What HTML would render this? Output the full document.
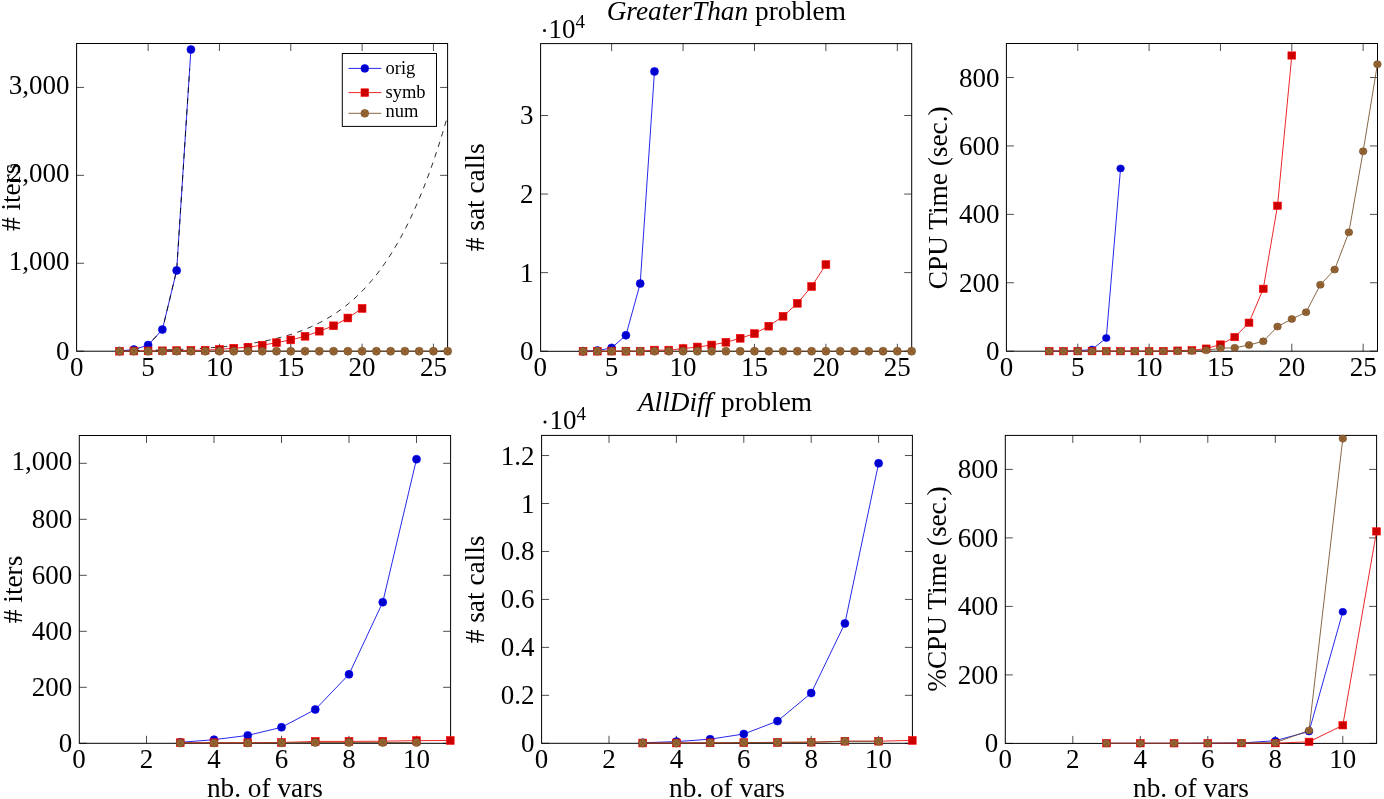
<!DOCTYPE html><html><head><meta charset="utf-8"><style>html,body{margin:0;padding:0;background:#fff;overflow:hidden}svg{display:block;will-change:transform}text{font-family:"Liberation Serif",serif;fill:#000}.t{font-size:27px}.l{font-size:27.3px}.g{font-size:18.5px}</style></head><body>
<svg width="1384" height="799" viewBox="0 0 1384 799">
<rect x="76.6" y="43.5" width="371" height="307.7" fill="none" stroke="#000" stroke-width="1"/>
<path d="M148.12 351.2V343.7M148.12 43.5V51M219.45 351.2V343.7M219.45 43.5V51M290.78 351.2V343.7M290.78 43.5V51M362.1 351.2V343.7M362.1 43.5V51M433.43 351.2V343.7M433.43 43.5V51M76.6 351.2H84.1M447.6 351.2H440.1M76.6 263.27H84.1M447.6 263.27H440.1M76.6 175.34H84.1M447.6 175.34H440.1M76.6 87.41H84.1M447.6 87.41H440.1" stroke="#000" stroke-width="0.7" fill="none"/>
<text x="76.8" y="376.2" text-anchor="middle" class="t">0</text>
<text x="148.12" y="376.2" text-anchor="middle" class="t">5</text>
<text x="219.45" y="376.2" text-anchor="middle" class="t">10</text>
<text x="290.78" y="376.2" text-anchor="middle" class="t">15</text>
<text x="362.1" y="376.2" text-anchor="middle" class="t">20</text>
<text x="433.43" y="376.2" text-anchor="middle" class="t">25</text>
<text x="69.6" y="360.2" text-anchor="end" class="t">0</text>
<text x="69.6" y="269.97" text-anchor="end" class="t">1,000</text>
<text x="69.6" y="182.04" text-anchor="end" class="t">2,000</text>
<text x="69.6" y="94.11" text-anchor="end" class="t">3,000</text>
<path d="M119.59 351 L133.86 349.6 L148.12 345.1 L162.39 329.6 L176.66 270.4 L190.92 49.5" fill="none" stroke="#0000e6" stroke-width="0.85" stroke-linejoin="round"/>
<path d="M119.59 351.2 L133.86 351 L148.12 350.9 L162.39 350.8 L176.66 350.6 L190.92 350.3 L205.19 350.2 L219.45 349.4 L233.72 348.2 L247.98 347.2 L262.25 345.2 L276.51 342.7 L290.78 339.9 L305.04 336.3 L319.31 331.2 L333.57 325.8 L347.84 318 L362.1 308.4" fill="none" stroke="#e60000" stroke-width="0.85" stroke-linejoin="round"/>
<path d="M119.59 351.2 L133.86 351.2 L148.12 351.2 L162.39 351.2 L176.66 351.2 L190.92 351.2 L205.19 351.2 L219.45 351.2 L233.72 351.2 L247.98 351.2 L262.25 351.2 L276.51 351.2 L290.78 351.2 L305.04 351.2 L319.31 351.2 L333.57 351.2 L347.84 351.2 L362.1 351.2 L376.37 351.2 L390.63 351.2 L404.9 351.2 L419.16 351.2 L433.43 351.2 L447.69 351.2" fill="none" stroke="#734d26" stroke-width="0.85" stroke-linejoin="round"/>
<path d="M133.86 350.55 L136.48 350.51 L139.09 350.46 L141.71 350.42 L144.32 350.37 L146.94 350.32 L149.55 350.27 L152.17 350.22 L154.78 350.16 L157.4 350.09 L160.01 350.03 L162.63 349.96 L165.24 349.89 L167.86 349.81 L170.47 349.73 L173.09 349.64 L175.7 349.55 L178.32 349.46 L180.93 349.36 L183.55 349.25 L186.16 349.14 L188.78 349.02 L191.4 348.9 L194.01 348.77 L196.63 348.63 L199.24 348.48 L201.86 348.33 L204.47 348.17 L207.09 348 L209.7 347.82 L212.32 347.63 L214.93 347.43 L217.55 347.22 L220.16 347 L222.78 346.77 L225.39 346.53 L228.01 346.28 L230.62 346.01 L233.24 345.73 L235.85 345.43 L238.47 345.12 L241.09 344.79 L243.7 344.45 L246.32 344.09 L248.93 343.71 L251.55 343.32 L254.16 342.9 L256.78 342.46 L259.39 342 L262.01 341.52 L264.62 341.02 L267.24 340.49 L269.85 339.94 L272.47 339.35 L275.08 338.74 L277.7 338.11 L280.31 337.44 L282.93 336.74 L285.54 336 L288.16 335.24 L290.78 334.43 L293.39 333.59 L296.01 332.71 L298.62 331.79 L301.24 330.82 L303.85 329.81 L306.47 328.76 L309.08 327.66 L311.7 326.5 L314.31 325.3 L316.93 324.04 L319.54 322.72 L322.16 321.35 L324.77 319.92 L327.39 318.42 L330 316.85 L332.62 315.22 L335.23 313.51 L337.85 311.73 L340.46 309.88 L343.08 307.94 L345.7 305.92 L348.31 303.81 L350.93 301.62 L353.54 299.33 L356.16 296.94 L358.77 294.46 L361.39 291.87 L364 289.17 L366.62 286.36 L369.23 283.44 L371.85 280.39 L374.46 277.22 L377.08 273.92 L379.69 270.49 L382.31 266.92 L384.92 263.2 L387.54 259.34 L390.15 255.33 L392.77 251.15 L395.38 246.81 L398 242.3 L400.62 237.62 L403.23 232.75 L405.85 227.7 L408.46 222.45 L411.08 217 L413.69 211.34 L416.31 205.47 L418.92 199.38 L421.54 193.06 L424.15 186.5 L426.77 179.71 L429.38 172.66 L432 165.35 L434.61 157.77 L437.23 149.92 L439.84 141.79 L442.46 133.36 L445.07 124.64 L447.69 115.6" fill="none" stroke="#000" stroke-width="0.85" stroke-dasharray="5.5 5.5"/>
<path d="M133.86 349.6 L148.12 345.1 L162.39 329.6 L176.66 270.4 L189.68 68.75" fill="none" stroke="#000" stroke-width="0.85" stroke-dasharray="5.5 5.5"/>
<ellipse cx="119.59" cy="351" rx="4" ry="4" fill="#0000cc" stroke="#0000ff" stroke-width="0.6"/>
<ellipse cx="133.86" cy="349.6" rx="4" ry="4" fill="#0000cc" stroke="#0000ff" stroke-width="0.6"/>
<ellipse cx="148.12" cy="345.1" rx="4" ry="4" fill="#0000cc" stroke="#0000ff" stroke-width="0.6"/>
<ellipse cx="162.39" cy="329.6" rx="4" ry="4" fill="#0000cc" stroke="#0000ff" stroke-width="0.6"/>
<ellipse cx="176.66" cy="270.4" rx="4" ry="4" fill="#0000cc" stroke="#0000ff" stroke-width="0.6"/>
<ellipse cx="190.92" cy="49.5" rx="4" ry="4" fill="#0000cc" stroke="#0000ff" stroke-width="0.6"/>
<rect x="115.69" y="347.3" width="7.8" height="7.8" fill="#cc0000" stroke="#ff0000" stroke-width="0.6"/>
<rect x="129.96" y="347.1" width="7.8" height="7.8" fill="#cc0000" stroke="#ff0000" stroke-width="0.6"/>
<rect x="144.22" y="347" width="7.8" height="7.8" fill="#cc0000" stroke="#ff0000" stroke-width="0.6"/>
<rect x="158.49" y="346.9" width="7.8" height="7.8" fill="#cc0000" stroke="#ff0000" stroke-width="0.6"/>
<rect x="172.75" y="346.7" width="7.8" height="7.8" fill="#cc0000" stroke="#ff0000" stroke-width="0.6"/>
<rect x="187.02" y="346.4" width="7.8" height="7.8" fill="#cc0000" stroke="#ff0000" stroke-width="0.6"/>
<rect x="201.28" y="346.3" width="7.8" height="7.8" fill="#cc0000" stroke="#ff0000" stroke-width="0.6"/>
<rect x="215.55" y="345.5" width="7.8" height="7.8" fill="#cc0000" stroke="#ff0000" stroke-width="0.6"/>
<rect x="229.82" y="344.3" width="7.8" height="7.8" fill="#cc0000" stroke="#ff0000" stroke-width="0.6"/>
<rect x="244.08" y="343.3" width="7.8" height="7.8" fill="#cc0000" stroke="#ff0000" stroke-width="0.6"/>
<rect x="258.35" y="341.3" width="7.8" height="7.8" fill="#cc0000" stroke="#ff0000" stroke-width="0.6"/>
<rect x="272.61" y="338.8" width="7.8" height="7.8" fill="#cc0000" stroke="#ff0000" stroke-width="0.6"/>
<rect x="286.88" y="336" width="7.8" height="7.8" fill="#cc0000" stroke="#ff0000" stroke-width="0.6"/>
<rect x="301.14" y="332.4" width="7.8" height="7.8" fill="#cc0000" stroke="#ff0000" stroke-width="0.6"/>
<rect x="315.41" y="327.3" width="7.8" height="7.8" fill="#cc0000" stroke="#ff0000" stroke-width="0.6"/>
<rect x="329.67" y="321.9" width="7.8" height="7.8" fill="#cc0000" stroke="#ff0000" stroke-width="0.6"/>
<rect x="343.94" y="314.1" width="7.8" height="7.8" fill="#cc0000" stroke="#ff0000" stroke-width="0.6"/>
<rect x="358.2" y="304.5" width="7.8" height="7.8" fill="#cc0000" stroke="#ff0000" stroke-width="0.6"/>
<ellipse cx="119.59" cy="351.2" rx="4" ry="4" fill="#996633" stroke="#734d26" stroke-width="0.6"/>
<path d="M116.77 348.37L122.42 354.03M116.77 354.03L122.42 348.37" stroke="#734d26" stroke-width="0.6" fill="none"/>
<ellipse cx="133.86" cy="351.2" rx="4" ry="4" fill="#996633" stroke="#734d26" stroke-width="0.6"/>
<path d="M131.03 348.37L136.69 354.03M131.03 354.03L136.69 348.37" stroke="#734d26" stroke-width="0.6" fill="none"/>
<ellipse cx="148.12" cy="351.2" rx="4" ry="4" fill="#996633" stroke="#734d26" stroke-width="0.6"/>
<path d="M145.3 348.37L150.95 354.03M145.3 354.03L150.95 348.37" stroke="#734d26" stroke-width="0.6" fill="none"/>
<ellipse cx="162.39" cy="351.2" rx="4" ry="4" fill="#996633" stroke="#734d26" stroke-width="0.6"/>
<path d="M159.56 348.37L165.22 354.03M159.56 354.03L165.22 348.37" stroke="#734d26" stroke-width="0.6" fill="none"/>
<ellipse cx="176.66" cy="351.2" rx="4" ry="4" fill="#996633" stroke="#734d26" stroke-width="0.6"/>
<path d="M173.83 348.37L179.48 354.03M173.83 354.03L179.48 348.37" stroke="#734d26" stroke-width="0.6" fill="none"/>
<ellipse cx="190.92" cy="351.2" rx="4" ry="4" fill="#996633" stroke="#734d26" stroke-width="0.6"/>
<path d="M188.09 348.37L193.75 354.03M188.09 354.03L193.75 348.37" stroke="#734d26" stroke-width="0.6" fill="none"/>
<ellipse cx="205.19" cy="351.2" rx="4" ry="4" fill="#996633" stroke="#734d26" stroke-width="0.6"/>
<path d="M202.36 348.37L208.01 354.03M202.36 354.03L208.01 348.37" stroke="#734d26" stroke-width="0.6" fill="none"/>
<ellipse cx="219.45" cy="351.2" rx="4" ry="4" fill="#996633" stroke="#734d26" stroke-width="0.6"/>
<path d="M216.62 348.37L222.28 354.03M216.62 354.03L222.28 348.37" stroke="#734d26" stroke-width="0.6" fill="none"/>
<ellipse cx="233.72" cy="351.2" rx="4" ry="4" fill="#996633" stroke="#734d26" stroke-width="0.6"/>
<path d="M230.89 348.37L236.54 354.03M230.89 354.03L236.54 348.37" stroke="#734d26" stroke-width="0.6" fill="none"/>
<ellipse cx="247.98" cy="351.2" rx="4" ry="4" fill="#996633" stroke="#734d26" stroke-width="0.6"/>
<path d="M245.15 348.37L250.81 354.03M245.15 354.03L250.81 348.37" stroke="#734d26" stroke-width="0.6" fill="none"/>
<ellipse cx="262.25" cy="351.2" rx="4" ry="4" fill="#996633" stroke="#734d26" stroke-width="0.6"/>
<path d="M259.42 348.37L265.07 354.03M259.42 354.03L265.07 348.37" stroke="#734d26" stroke-width="0.6" fill="none"/>
<ellipse cx="276.51" cy="351.2" rx="4" ry="4" fill="#996633" stroke="#734d26" stroke-width="0.6"/>
<path d="M273.68 348.37L279.34 354.03M273.68 354.03L279.34 348.37" stroke="#734d26" stroke-width="0.6" fill="none"/>
<ellipse cx="290.78" cy="351.2" rx="4" ry="4" fill="#996633" stroke="#734d26" stroke-width="0.6"/>
<path d="M287.95 348.37L293.6 354.03M287.95 354.03L293.6 348.37" stroke="#734d26" stroke-width="0.6" fill="none"/>
<ellipse cx="305.04" cy="351.2" rx="4" ry="4" fill="#996633" stroke="#734d26" stroke-width="0.6"/>
<path d="M302.21 348.37L307.87 354.03M302.21 354.03L307.87 348.37" stroke="#734d26" stroke-width="0.6" fill="none"/>
<ellipse cx="319.31" cy="351.2" rx="4" ry="4" fill="#996633" stroke="#734d26" stroke-width="0.6"/>
<path d="M316.48 348.37L322.13 354.03M316.48 354.03L322.13 348.37" stroke="#734d26" stroke-width="0.6" fill="none"/>
<ellipse cx="333.57" cy="351.2" rx="4" ry="4" fill="#996633" stroke="#734d26" stroke-width="0.6"/>
<path d="M330.74 348.37L336.4 354.03M330.74 354.03L336.4 348.37" stroke="#734d26" stroke-width="0.6" fill="none"/>
<ellipse cx="347.84" cy="351.2" rx="4" ry="4" fill="#996633" stroke="#734d26" stroke-width="0.6"/>
<path d="M345.01 348.37L350.66 354.03M345.01 354.03L350.66 348.37" stroke="#734d26" stroke-width="0.6" fill="none"/>
<ellipse cx="362.1" cy="351.2" rx="4" ry="4" fill="#996633" stroke="#734d26" stroke-width="0.6"/>
<path d="M359.27 348.37L364.93 354.03M359.27 354.03L364.93 348.37" stroke="#734d26" stroke-width="0.6" fill="none"/>
<ellipse cx="376.37" cy="351.2" rx="4" ry="4" fill="#996633" stroke="#734d26" stroke-width="0.6"/>
<path d="M373.54 348.37L379.19 354.03M373.54 354.03L379.19 348.37" stroke="#734d26" stroke-width="0.6" fill="none"/>
<ellipse cx="390.63" cy="351.2" rx="4" ry="4" fill="#996633" stroke="#734d26" stroke-width="0.6"/>
<path d="M387.8 348.37L393.46 354.03M387.8 354.03L393.46 348.37" stroke="#734d26" stroke-width="0.6" fill="none"/>
<ellipse cx="404.9" cy="351.2" rx="4" ry="4" fill="#996633" stroke="#734d26" stroke-width="0.6"/>
<path d="M402.07 348.37L407.72 354.03M402.07 354.03L407.72 348.37" stroke="#734d26" stroke-width="0.6" fill="none"/>
<ellipse cx="419.16" cy="351.2" rx="4" ry="4" fill="#996633" stroke="#734d26" stroke-width="0.6"/>
<path d="M416.33 348.37L421.99 354.03M416.33 354.03L421.99 348.37" stroke="#734d26" stroke-width="0.6" fill="none"/>
<ellipse cx="433.43" cy="351.2" rx="4" ry="4" fill="#996633" stroke="#734d26" stroke-width="0.6"/>
<path d="M430.6 348.37L436.25 354.03M430.6 354.03L436.25 348.37" stroke="#734d26" stroke-width="0.6" fill="none"/>
<ellipse cx="447.69" cy="351.2" rx="4" ry="4" fill="#996633" stroke="#734d26" stroke-width="0.6"/>
<path d="M444.86 348.37L450.52 354.03M444.86 354.03L450.52 348.37" stroke="#734d26" stroke-width="0.6" fill="none"/>
<rect x="342.3" y="53.5" width="94.2" height="72.9" fill="#fff" stroke="#000" stroke-width="1"/>
<path d="M348.5 68.4H381.4" stroke="#0000e6" stroke-width="0.85"/>
<ellipse cx="364.8" cy="68.4" rx="3.9" ry="3.9" fill="#0000cc" stroke="#0000ff" stroke-width="0.6"/>
<text x="385.5" y="73.9" class="g">orig</text>
<path d="M348.5 92.6H381.4" stroke="#e60000" stroke-width="0.85"/>
<rect x="361" y="88.8" width="7.6" height="7.6" fill="#cc0000" stroke="#ff0000" stroke-width="0.6"/>
<text x="385.5" y="98.1" class="g">symb</text>
<path d="M348.5 113.3H381.4" stroke="#734d26" stroke-width="0.85"/>
<ellipse cx="364.8" cy="113.3" rx="3.9" ry="3.9" fill="#996633" stroke="#734d26" stroke-width="0.6"/>
<path d="M362.04 110.54L367.56 116.06M362.04 116.06L367.56 110.54" stroke="#734d26" stroke-width="0.6" fill="none"/>
<text x="385.5" y="116.6" class="g">num</text>
<text x="0" y="0" transform="translate(20.1 197.3) rotate(-90)" text-anchor="middle" class="l"># iters</text>
<rect x="540.6" y="43.6" width="371.1" height="307.7" fill="none" stroke="#000" stroke-width="1"/>
<path d="M611.62 351.3V343.8M611.62 43.6V51.1M683.05 351.3V343.8M683.05 43.6V51.1M754.48 351.3V343.8M754.48 43.6V51.1M825.9 351.3V343.8M825.9 43.6V51.1M897.33 351.3V343.8M897.33 43.6V51.1M540.6 351.2H548.1M911.7 351.2H904.2M540.6 272.63H548.1M911.7 272.63H904.2M540.6 194.06H548.1M911.7 194.06H904.2M540.6 115.49H548.1M911.7 115.49H904.2" stroke="#000" stroke-width="0.7" fill="none"/>
<text x="540.2" y="376.3" text-anchor="middle" class="t">0</text>
<text x="611.62" y="376.3" text-anchor="middle" class="t">5</text>
<text x="683.05" y="376.3" text-anchor="middle" class="t">10</text>
<text x="754.48" y="376.3" text-anchor="middle" class="t">15</text>
<text x="825.9" y="376.3" text-anchor="middle" class="t">20</text>
<text x="897.33" y="376.3" text-anchor="middle" class="t">25</text>
<text x="533.6" y="360.2" text-anchor="end" class="t">0</text>
<text x="533.6" y="281.63" text-anchor="end" class="t">1</text>
<text x="533.6" y="203.06" text-anchor="end" class="t">2</text>
<text x="533.6" y="124.49" text-anchor="end" class="t">3</text>
<path d="M583.06 351.2 L597.34 350.6 L611.62 347.9 L625.91 335.3 L640.2 283.6 L654.48 71.4" fill="none" stroke="#0000e6" stroke-width="0.85" stroke-linejoin="round"/>
<ellipse cx="583.06" cy="351.2" rx="4" ry="4" fill="#0000cc" stroke="#0000ff" stroke-width="0.6"/>
<ellipse cx="597.34" cy="350.6" rx="4" ry="4" fill="#0000cc" stroke="#0000ff" stroke-width="0.6"/>
<ellipse cx="611.62" cy="347.9" rx="4" ry="4" fill="#0000cc" stroke="#0000ff" stroke-width="0.6"/>
<ellipse cx="625.91" cy="335.3" rx="4" ry="4" fill="#0000cc" stroke="#0000ff" stroke-width="0.6"/>
<ellipse cx="640.2" cy="283.6" rx="4" ry="4" fill="#0000cc" stroke="#0000ff" stroke-width="0.6"/>
<ellipse cx="654.48" cy="71.4" rx="4" ry="4" fill="#0000cc" stroke="#0000ff" stroke-width="0.6"/>
<path d="M583.06 351.2 L597.34 351.2 L611.62 351.1 L625.91 351.2 L640.2 351.2 L654.48 350.1 L668.77 350.1 L683.05 348.6 L697.34 347 L711.62 345 L725.91 342.3 L740.19 338.3 L754.48 333.6 L768.76 326.2 L783.05 316.3 L797.33 303.3 L811.62 286.5 L825.9 264.6" fill="none" stroke="#e60000" stroke-width="0.85" stroke-linejoin="round"/>
<rect x="579.16" y="347.3" width="7.8" height="7.8" fill="#cc0000" stroke="#ff0000" stroke-width="0.6"/>
<rect x="593.44" y="347.3" width="7.8" height="7.8" fill="#cc0000" stroke="#ff0000" stroke-width="0.6"/>
<rect x="607.73" y="347.2" width="7.8" height="7.8" fill="#cc0000" stroke="#ff0000" stroke-width="0.6"/>
<rect x="622.01" y="347.3" width="7.8" height="7.8" fill="#cc0000" stroke="#ff0000" stroke-width="0.6"/>
<rect x="636.3" y="347.3" width="7.8" height="7.8" fill="#cc0000" stroke="#ff0000" stroke-width="0.6"/>
<rect x="650.58" y="346.2" width="7.8" height="7.8" fill="#cc0000" stroke="#ff0000" stroke-width="0.6"/>
<rect x="664.87" y="346.2" width="7.8" height="7.8" fill="#cc0000" stroke="#ff0000" stroke-width="0.6"/>
<rect x="679.15" y="344.7" width="7.8" height="7.8" fill="#cc0000" stroke="#ff0000" stroke-width="0.6"/>
<rect x="693.44" y="343.1" width="7.8" height="7.8" fill="#cc0000" stroke="#ff0000" stroke-width="0.6"/>
<rect x="707.72" y="341.1" width="7.8" height="7.8" fill="#cc0000" stroke="#ff0000" stroke-width="0.6"/>
<rect x="722.01" y="338.4" width="7.8" height="7.8" fill="#cc0000" stroke="#ff0000" stroke-width="0.6"/>
<rect x="736.29" y="334.4" width="7.8" height="7.8" fill="#cc0000" stroke="#ff0000" stroke-width="0.6"/>
<rect x="750.58" y="329.7" width="7.8" height="7.8" fill="#cc0000" stroke="#ff0000" stroke-width="0.6"/>
<rect x="764.86" y="322.3" width="7.8" height="7.8" fill="#cc0000" stroke="#ff0000" stroke-width="0.6"/>
<rect x="779.15" y="312.4" width="7.8" height="7.8" fill="#cc0000" stroke="#ff0000" stroke-width="0.6"/>
<rect x="793.43" y="299.4" width="7.8" height="7.8" fill="#cc0000" stroke="#ff0000" stroke-width="0.6"/>
<rect x="807.72" y="282.6" width="7.8" height="7.8" fill="#cc0000" stroke="#ff0000" stroke-width="0.6"/>
<rect x="822" y="260.7" width="7.8" height="7.8" fill="#cc0000" stroke="#ff0000" stroke-width="0.6"/>
<path d="M583.06 351.2 L597.34 351.2 L611.62 351.2 L625.91 351.2 L640.2 351.2 L654.48 351.2 L668.77 351.2 L683.05 351.2 L697.34 351.2 L711.62 351.2 L725.91 351.2 L740.19 351.2 L754.48 351.2 L768.76 351.2 L783.05 351.2 L797.33 351.2 L811.62 351.2 L825.9 351.2 L840.19 351.2 L854.47 351.2 L868.76 351.2 L883.04 351.2 L897.33 351.2 L911.61 351.2" fill="none" stroke="#734d26" stroke-width="0.85" stroke-linejoin="round"/>
<ellipse cx="583.06" cy="351.2" rx="4" ry="4" fill="#996633" stroke="#734d26" stroke-width="0.6"/>
<path d="M580.23 348.37L585.88 354.03M580.23 354.03L585.88 348.37" stroke="#734d26" stroke-width="0.6" fill="none"/>
<ellipse cx="597.34" cy="351.2" rx="4" ry="4" fill="#996633" stroke="#734d26" stroke-width="0.6"/>
<path d="M594.51 348.37L600.17 354.03M594.51 354.03L600.17 348.37" stroke="#734d26" stroke-width="0.6" fill="none"/>
<ellipse cx="611.62" cy="351.2" rx="4" ry="4" fill="#996633" stroke="#734d26" stroke-width="0.6"/>
<path d="M608.8 348.37L614.45 354.03M608.8 354.03L614.45 348.37" stroke="#734d26" stroke-width="0.6" fill="none"/>
<ellipse cx="625.91" cy="351.2" rx="4" ry="4" fill="#996633" stroke="#734d26" stroke-width="0.6"/>
<path d="M623.08 348.37L628.74 354.03M623.08 354.03L628.74 348.37" stroke="#734d26" stroke-width="0.6" fill="none"/>
<ellipse cx="640.2" cy="351.2" rx="4" ry="4" fill="#996633" stroke="#734d26" stroke-width="0.6"/>
<path d="M637.37 348.37L643.02 354.03M637.37 354.03L643.02 348.37" stroke="#734d26" stroke-width="0.6" fill="none"/>
<ellipse cx="654.48" cy="351.2" rx="4" ry="4" fill="#996633" stroke="#734d26" stroke-width="0.6"/>
<path d="M651.65 348.37L657.31 354.03M651.65 354.03L657.31 348.37" stroke="#734d26" stroke-width="0.6" fill="none"/>
<ellipse cx="668.77" cy="351.2" rx="4" ry="4" fill="#996633" stroke="#734d26" stroke-width="0.6"/>
<path d="M665.94 348.37L671.59 354.03M665.94 354.03L671.59 348.37" stroke="#734d26" stroke-width="0.6" fill="none"/>
<ellipse cx="683.05" cy="351.2" rx="4" ry="4" fill="#996633" stroke="#734d26" stroke-width="0.6"/>
<path d="M680.22 348.37L685.88 354.03M680.22 354.03L685.88 348.37" stroke="#734d26" stroke-width="0.6" fill="none"/>
<ellipse cx="697.34" cy="351.2" rx="4" ry="4" fill="#996633" stroke="#734d26" stroke-width="0.6"/>
<path d="M694.51 348.37L700.16 354.03M694.51 354.03L700.16 348.37" stroke="#734d26" stroke-width="0.6" fill="none"/>
<ellipse cx="711.62" cy="351.2" rx="4" ry="4" fill="#996633" stroke="#734d26" stroke-width="0.6"/>
<path d="M708.79 348.37L714.45 354.03M708.79 354.03L714.45 348.37" stroke="#734d26" stroke-width="0.6" fill="none"/>
<ellipse cx="725.91" cy="351.2" rx="4" ry="4" fill="#996633" stroke="#734d26" stroke-width="0.6"/>
<path d="M723.08 348.37L728.73 354.03M723.08 354.03L728.73 348.37" stroke="#734d26" stroke-width="0.6" fill="none"/>
<ellipse cx="740.19" cy="351.2" rx="4" ry="4" fill="#996633" stroke="#734d26" stroke-width="0.6"/>
<path d="M737.36 348.37L743.02 354.03M737.36 354.03L743.02 348.37" stroke="#734d26" stroke-width="0.6" fill="none"/>
<ellipse cx="754.48" cy="351.2" rx="4" ry="4" fill="#996633" stroke="#734d26" stroke-width="0.6"/>
<path d="M751.65 348.37L757.3 354.03M751.65 354.03L757.3 348.37" stroke="#734d26" stroke-width="0.6" fill="none"/>
<ellipse cx="768.76" cy="351.2" rx="4" ry="4" fill="#996633" stroke="#734d26" stroke-width="0.6"/>
<path d="M765.93 348.37L771.59 354.03M765.93 354.03L771.59 348.37" stroke="#734d26" stroke-width="0.6" fill="none"/>
<ellipse cx="783.05" cy="351.2" rx="4" ry="4" fill="#996633" stroke="#734d26" stroke-width="0.6"/>
<path d="M780.22 348.37L785.87 354.03M780.22 354.03L785.87 348.37" stroke="#734d26" stroke-width="0.6" fill="none"/>
<ellipse cx="797.33" cy="351.2" rx="4" ry="4" fill="#996633" stroke="#734d26" stroke-width="0.6"/>
<path d="M794.5 348.37L800.16 354.03M794.5 354.03L800.16 348.37" stroke="#734d26" stroke-width="0.6" fill="none"/>
<ellipse cx="811.62" cy="351.2" rx="4" ry="4" fill="#996633" stroke="#734d26" stroke-width="0.6"/>
<path d="M808.79 348.37L814.44 354.03M808.79 354.03L814.44 348.37" stroke="#734d26" stroke-width="0.6" fill="none"/>
<ellipse cx="825.9" cy="351.2" rx="4" ry="4" fill="#996633" stroke="#734d26" stroke-width="0.6"/>
<path d="M823.07 348.37L828.73 354.03M823.07 354.03L828.73 348.37" stroke="#734d26" stroke-width="0.6" fill="none"/>
<ellipse cx="840.19" cy="351.2" rx="4" ry="4" fill="#996633" stroke="#734d26" stroke-width="0.6"/>
<path d="M837.36 348.37L843.01 354.03M837.36 354.03L843.01 348.37" stroke="#734d26" stroke-width="0.6" fill="none"/>
<ellipse cx="854.47" cy="351.2" rx="4" ry="4" fill="#996633" stroke="#734d26" stroke-width="0.6"/>
<path d="M851.64 348.37L857.3 354.03M851.64 354.03L857.3 348.37" stroke="#734d26" stroke-width="0.6" fill="none"/>
<ellipse cx="868.76" cy="351.2" rx="4" ry="4" fill="#996633" stroke="#734d26" stroke-width="0.6"/>
<path d="M865.93 348.37L871.58 354.03M865.93 354.03L871.58 348.37" stroke="#734d26" stroke-width="0.6" fill="none"/>
<ellipse cx="883.04" cy="351.2" rx="4" ry="4" fill="#996633" stroke="#734d26" stroke-width="0.6"/>
<path d="M880.21 348.37L885.87 354.03M880.21 354.03L885.87 348.37" stroke="#734d26" stroke-width="0.6" fill="none"/>
<ellipse cx="897.33" cy="351.2" rx="4" ry="4" fill="#996633" stroke="#734d26" stroke-width="0.6"/>
<path d="M894.5 348.37L900.15 354.03M894.5 354.03L900.15 348.37" stroke="#734d26" stroke-width="0.6" fill="none"/>
<ellipse cx="911.61" cy="351.2" rx="4" ry="4" fill="#996633" stroke="#734d26" stroke-width="0.6"/>
<path d="M908.78 348.37L914.44 354.03M908.78 354.03L914.44 348.37" stroke="#734d26" stroke-width="0.6" fill="none"/>
<circle cx="544.5" cy="30.6" r="1.5" fill="#000"/>
<text x="548.5" y="37.6" class="t">10</text><text x="575.5" y="28" style="font-size:19px">4</text>
<text x="0" y="0" transform="translate(483.9 197.3) rotate(-90)" text-anchor="middle" class="l"># sat calls</text>
<text x="726.3" y="19.5" text-anchor="middle" class="l"><tspan font-style="italic">GreaterThan</tspan> problem</text>
<rect x="1006.4" y="43.5" width="371.1" height="307.7" fill="none" stroke="#000" stroke-width="1"/>
<path d="M1077.75 351.2V343.7M1077.75 43.5V51M1149.1 351.2V343.7M1149.1 43.5V51M1220.45 351.2V343.7M1220.45 43.5V51M1291.8 351.2V343.7M1291.8 43.5V51M1363.15 351.2V343.7M1363.15 43.5V51M1006.4 351.2H1013.9M1377.5 351.2H1370M1006.4 282.78H1013.9M1377.5 282.78H1370M1006.4 214.36H1013.9M1377.5 214.36H1370M1006.4 145.94H1013.9M1377.5 145.94H1370M1006.4 77.52H1013.9M1377.5 77.52H1370" stroke="#000" stroke-width="0.7" fill="none"/>
<text x="1006.4" y="376.2" text-anchor="middle" class="t">0</text>
<text x="1077.75" y="376.2" text-anchor="middle" class="t">5</text>
<text x="1149.1" y="376.2" text-anchor="middle" class="t">10</text>
<text x="1220.45" y="376.2" text-anchor="middle" class="t">15</text>
<text x="1291.8" y="376.2" text-anchor="middle" class="t">20</text>
<text x="1363.15" y="376.2" text-anchor="middle" class="t">25</text>
<text x="999.4" y="360.2" text-anchor="end" class="t">0</text>
<text x="999.4" y="291.78" text-anchor="end" class="t">200</text>
<text x="999.4" y="223.36" text-anchor="end" class="t">400</text>
<text x="999.4" y="154.94" text-anchor="end" class="t">600</text>
<text x="999.4" y="86.52" text-anchor="end" class="t">800</text>
<path d="M1049.21 351.2 L1063.48 351.2 L1077.75 350.8 L1092.02 349.5 L1106.29 338 L1120.56 168.4" fill="none" stroke="#0000e6" stroke-width="0.85" stroke-linejoin="round"/>
<ellipse cx="1049.21" cy="351.2" rx="3.8" ry="3.5" fill="#0000cc" stroke="#0000ff" stroke-width="0.6"/>
<ellipse cx="1063.48" cy="351.2" rx="3.8" ry="3.5" fill="#0000cc" stroke="#0000ff" stroke-width="0.6"/>
<ellipse cx="1077.75" cy="350.8" rx="3.8" ry="3.5" fill="#0000cc" stroke="#0000ff" stroke-width="0.6"/>
<ellipse cx="1092.02" cy="349.5" rx="3.8" ry="3.5" fill="#0000cc" stroke="#0000ff" stroke-width="0.6"/>
<ellipse cx="1106.29" cy="338" rx="3.8" ry="3.5" fill="#0000cc" stroke="#0000ff" stroke-width="0.6"/>
<ellipse cx="1120.56" cy="168.4" rx="3.8" ry="3.5" fill="#0000cc" stroke="#0000ff" stroke-width="0.6"/>
<path d="M1049.21 351.2 L1063.48 351.2 L1077.75 351.2 L1092.02 351.2 L1106.29 351.2 L1120.56 351.2 L1134.83 351.2 L1149.1 351.2 L1163.37 351 L1177.64 350.6 L1191.91 350.3 L1206.18 348.6 L1220.45 344.5 L1234.72 337.1 L1248.99 322.7 L1263.26 288.8 L1277.53 205.7 L1291.8 55.5" fill="none" stroke="#e60000" stroke-width="0.85" stroke-linejoin="round"/>
<rect x="1045.31" y="347.55" width="7.8" height="7.3" fill="#cc0000" stroke="#ff0000" stroke-width="0.6"/>
<rect x="1059.58" y="347.55" width="7.8" height="7.3" fill="#cc0000" stroke="#ff0000" stroke-width="0.6"/>
<rect x="1073.85" y="347.55" width="7.8" height="7.3" fill="#cc0000" stroke="#ff0000" stroke-width="0.6"/>
<rect x="1088.12" y="347.55" width="7.8" height="7.3" fill="#cc0000" stroke="#ff0000" stroke-width="0.6"/>
<rect x="1102.39" y="347.55" width="7.8" height="7.3" fill="#cc0000" stroke="#ff0000" stroke-width="0.6"/>
<rect x="1116.66" y="347.55" width="7.8" height="7.3" fill="#cc0000" stroke="#ff0000" stroke-width="0.6"/>
<rect x="1130.93" y="347.55" width="7.8" height="7.3" fill="#cc0000" stroke="#ff0000" stroke-width="0.6"/>
<rect x="1145.2" y="347.55" width="7.8" height="7.3" fill="#cc0000" stroke="#ff0000" stroke-width="0.6"/>
<rect x="1159.47" y="347.35" width="7.8" height="7.3" fill="#cc0000" stroke="#ff0000" stroke-width="0.6"/>
<rect x="1173.74" y="346.95" width="7.8" height="7.3" fill="#cc0000" stroke="#ff0000" stroke-width="0.6"/>
<rect x="1188.01" y="346.65" width="7.8" height="7.3" fill="#cc0000" stroke="#ff0000" stroke-width="0.6"/>
<rect x="1202.28" y="344.95" width="7.8" height="7.3" fill="#cc0000" stroke="#ff0000" stroke-width="0.6"/>
<rect x="1216.55" y="340.85" width="7.8" height="7.3" fill="#cc0000" stroke="#ff0000" stroke-width="0.6"/>
<rect x="1230.82" y="333.45" width="7.8" height="7.3" fill="#cc0000" stroke="#ff0000" stroke-width="0.6"/>
<rect x="1245.09" y="319.05" width="7.8" height="7.3" fill="#cc0000" stroke="#ff0000" stroke-width="0.6"/>
<rect x="1259.36" y="285.15" width="7.8" height="7.3" fill="#cc0000" stroke="#ff0000" stroke-width="0.6"/>
<rect x="1273.63" y="202.05" width="7.8" height="7.3" fill="#cc0000" stroke="#ff0000" stroke-width="0.6"/>
<rect x="1287.9" y="51.85" width="7.8" height="7.3" fill="#cc0000" stroke="#ff0000" stroke-width="0.6"/>
<path d="M1049.21 351.2 L1063.48 351.2 L1077.75 351.2 L1092.02 351.2 L1106.29 351.2 L1120.56 351.2 L1134.83 351.2 L1149.1 351.2 L1163.37 351.2 L1177.64 351.2 L1191.91 351 L1206.18 350.3 L1220.45 348.3 L1234.72 347.8 L1248.99 345 L1263.26 341.3 L1277.53 326.6 L1291.8 319 L1306.07 312.2 L1320.34 284.8 L1334.61 269.6 L1348.88 232.3 L1363.15 151.3 L1377.42 64.2" fill="none" stroke="#734d26" stroke-width="0.85" stroke-linejoin="round"/>
<ellipse cx="1049.21" cy="351.2" rx="3.8" ry="3.5" fill="#996633" stroke="#734d26" stroke-width="0.6"/>
<path d="M1046.52 348.73L1051.9 353.67M1046.52 353.67L1051.9 348.73" stroke="#734d26" stroke-width="0.6" fill="none"/>
<ellipse cx="1063.48" cy="351.2" rx="3.8" ry="3.5" fill="#996633" stroke="#734d26" stroke-width="0.6"/>
<path d="M1060.79 348.73L1066.17 353.67M1060.79 353.67L1066.17 348.73" stroke="#734d26" stroke-width="0.6" fill="none"/>
<ellipse cx="1077.75" cy="351.2" rx="3.8" ry="3.5" fill="#996633" stroke="#734d26" stroke-width="0.6"/>
<path d="M1075.06 348.73L1080.44 353.67M1075.06 353.67L1080.44 348.73" stroke="#734d26" stroke-width="0.6" fill="none"/>
<ellipse cx="1092.02" cy="351.2" rx="3.8" ry="3.5" fill="#996633" stroke="#734d26" stroke-width="0.6"/>
<path d="M1089.33 348.73L1094.71 353.67M1089.33 353.67L1094.71 348.73" stroke="#734d26" stroke-width="0.6" fill="none"/>
<ellipse cx="1106.29" cy="351.2" rx="3.8" ry="3.5" fill="#996633" stroke="#734d26" stroke-width="0.6"/>
<path d="M1103.6 348.73L1108.98 353.67M1103.6 353.67L1108.98 348.73" stroke="#734d26" stroke-width="0.6" fill="none"/>
<ellipse cx="1120.56" cy="351.2" rx="3.8" ry="3.5" fill="#996633" stroke="#734d26" stroke-width="0.6"/>
<path d="M1117.87 348.73L1123.25 353.67M1117.87 353.67L1123.25 348.73" stroke="#734d26" stroke-width="0.6" fill="none"/>
<ellipse cx="1134.83" cy="351.2" rx="3.8" ry="3.5" fill="#996633" stroke="#734d26" stroke-width="0.6"/>
<path d="M1132.14 348.73L1137.52 353.67M1132.14 353.67L1137.52 348.73" stroke="#734d26" stroke-width="0.6" fill="none"/>
<ellipse cx="1149.1" cy="351.2" rx="3.8" ry="3.5" fill="#996633" stroke="#734d26" stroke-width="0.6"/>
<path d="M1146.41 348.73L1151.79 353.67M1146.41 353.67L1151.79 348.73" stroke="#734d26" stroke-width="0.6" fill="none"/>
<ellipse cx="1163.37" cy="351.2" rx="3.8" ry="3.5" fill="#996633" stroke="#734d26" stroke-width="0.6"/>
<path d="M1160.68 348.73L1166.06 353.67M1160.68 353.67L1166.06 348.73" stroke="#734d26" stroke-width="0.6" fill="none"/>
<ellipse cx="1177.64" cy="351.2" rx="3.8" ry="3.5" fill="#996633" stroke="#734d26" stroke-width="0.6"/>
<path d="M1174.95 348.73L1180.33 353.67M1174.95 353.67L1180.33 348.73" stroke="#734d26" stroke-width="0.6" fill="none"/>
<ellipse cx="1191.91" cy="351" rx="3.8" ry="3.5" fill="#996633" stroke="#734d26" stroke-width="0.6"/>
<path d="M1189.22 348.53L1194.6 353.47M1189.22 353.47L1194.6 348.53" stroke="#734d26" stroke-width="0.6" fill="none"/>
<ellipse cx="1206.18" cy="350.3" rx="3.8" ry="3.5" fill="#996633" stroke="#734d26" stroke-width="0.6"/>
<path d="M1203.49 347.83L1208.87 352.77M1203.49 352.77L1208.87 347.83" stroke="#734d26" stroke-width="0.6" fill="none"/>
<ellipse cx="1220.45" cy="348.3" rx="3.8" ry="3.5" fill="#996633" stroke="#734d26" stroke-width="0.6"/>
<path d="M1217.76 345.83L1223.14 350.77M1217.76 350.77L1223.14 345.83" stroke="#734d26" stroke-width="0.6" fill="none"/>
<ellipse cx="1234.72" cy="347.8" rx="3.8" ry="3.5" fill="#996633" stroke="#734d26" stroke-width="0.6"/>
<path d="M1232.03 345.33L1237.41 350.27M1232.03 350.27L1237.41 345.33" stroke="#734d26" stroke-width="0.6" fill="none"/>
<ellipse cx="1248.99" cy="345" rx="3.8" ry="3.5" fill="#996633" stroke="#734d26" stroke-width="0.6"/>
<path d="M1246.3 342.53L1251.68 347.47M1246.3 347.47L1251.68 342.53" stroke="#734d26" stroke-width="0.6" fill="none"/>
<ellipse cx="1263.26" cy="341.3" rx="3.8" ry="3.5" fill="#996633" stroke="#734d26" stroke-width="0.6"/>
<path d="M1260.57 338.83L1265.95 343.77M1260.57 343.77L1265.95 338.83" stroke="#734d26" stroke-width="0.6" fill="none"/>
<ellipse cx="1277.53" cy="326.6" rx="3.8" ry="3.5" fill="#996633" stroke="#734d26" stroke-width="0.6"/>
<path d="M1274.84 324.13L1280.22 329.07M1274.84 329.07L1280.22 324.13" stroke="#734d26" stroke-width="0.6" fill="none"/>
<ellipse cx="1291.8" cy="319" rx="3.8" ry="3.5" fill="#996633" stroke="#734d26" stroke-width="0.6"/>
<path d="M1289.11 316.53L1294.49 321.47M1289.11 321.47L1294.49 316.53" stroke="#734d26" stroke-width="0.6" fill="none"/>
<ellipse cx="1306.07" cy="312.2" rx="3.8" ry="3.5" fill="#996633" stroke="#734d26" stroke-width="0.6"/>
<path d="M1303.38 309.73L1308.76 314.67M1303.38 314.67L1308.76 309.73" stroke="#734d26" stroke-width="0.6" fill="none"/>
<ellipse cx="1320.34" cy="284.8" rx="3.8" ry="3.5" fill="#996633" stroke="#734d26" stroke-width="0.6"/>
<path d="M1317.65 282.33L1323.03 287.27M1317.65 287.27L1323.03 282.33" stroke="#734d26" stroke-width="0.6" fill="none"/>
<ellipse cx="1334.61" cy="269.6" rx="3.8" ry="3.5" fill="#996633" stroke="#734d26" stroke-width="0.6"/>
<path d="M1331.92 267.13L1337.3 272.07M1331.92 272.07L1337.3 267.13" stroke="#734d26" stroke-width="0.6" fill="none"/>
<ellipse cx="1348.88" cy="232.3" rx="3.8" ry="3.5" fill="#996633" stroke="#734d26" stroke-width="0.6"/>
<path d="M1346.19 229.83L1351.57 234.77M1346.19 234.77L1351.57 229.83" stroke="#734d26" stroke-width="0.6" fill="none"/>
<ellipse cx="1363.15" cy="151.3" rx="3.8" ry="3.5" fill="#996633" stroke="#734d26" stroke-width="0.6"/>
<path d="M1360.46 148.83L1365.84 153.77M1360.46 153.77L1365.84 148.83" stroke="#734d26" stroke-width="0.6" fill="none"/>
<ellipse cx="1377.42" cy="64.2" rx="3.8" ry="3.5" fill="#996633" stroke="#734d26" stroke-width="0.6"/>
<path d="M1374.73 61.73L1380.11 66.67M1374.73 66.67L1380.11 61.73" stroke="#734d26" stroke-width="0.6" fill="none"/>
<text x="0" y="0" transform="translate(946.9 197.8) rotate(-90)" text-anchor="middle" class="l">CPU Time (sec.)</text>
<rect x="79.3" y="435.5" width="371.3" height="307.8" fill="none" stroke="#000" stroke-width="1"/>
<path d="M146.5 743.3V735.8M146.5 435.5V443M214 743.3V735.8M214 435.5V443M281.5 743.3V735.8M281.5 435.5V443M349 743.3V735.8M349 435.5V443M416.5 743.3V735.8M416.5 435.5V443M79.3 743.3H86.8M450.6 743.3H443.1M79.3 687.3H86.8M450.6 687.3H443.1M79.3 631.3H86.8M450.6 631.3H443.1M79.3 575.3H86.8M450.6 575.3H443.1M79.3 519.3H86.8M450.6 519.3H443.1M79.3 463.3H86.8M450.6 463.3H443.1" stroke="#000" stroke-width="0.7" fill="none"/>
<text x="79" y="768.3" text-anchor="middle" class="t">0</text>
<text x="146.5" y="768.3" text-anchor="middle" class="t">2</text>
<text x="214" y="768.3" text-anchor="middle" class="t">4</text>
<text x="281.5" y="768.3" text-anchor="middle" class="t">6</text>
<text x="349" y="768.3" text-anchor="middle" class="t">8</text>
<text x="416.5" y="768.3" text-anchor="middle" class="t">10</text>
<text x="72.3" y="752.3" text-anchor="end" class="t">0</text>
<text x="72.3" y="696.3" text-anchor="end" class="t">200</text>
<text x="72.3" y="640.3" text-anchor="end" class="t">400</text>
<text x="72.3" y="584.3" text-anchor="end" class="t">600</text>
<text x="72.3" y="528.3" text-anchor="end" class="t">800</text>
<text x="72.3" y="470" text-anchor="end" class="t">1,000</text>
<path d="M180.25 742.3 L214 739.7 L247.75 735.4 L281.5 727.3 L315.25 709.5 L349 674.3 L382.75 602.2 L416.5 459.2" fill="none" stroke="#0000e6" stroke-width="0.85" stroke-linejoin="round"/>
<ellipse cx="180.25" cy="742.3" rx="4" ry="4" fill="#0000cc" stroke="#0000ff" stroke-width="0.6"/>
<ellipse cx="214" cy="739.7" rx="4" ry="4" fill="#0000cc" stroke="#0000ff" stroke-width="0.6"/>
<ellipse cx="247.75" cy="735.4" rx="4" ry="4" fill="#0000cc" stroke="#0000ff" stroke-width="0.6"/>
<ellipse cx="281.5" cy="727.3" rx="4" ry="4" fill="#0000cc" stroke="#0000ff" stroke-width="0.6"/>
<ellipse cx="315.25" cy="709.5" rx="4" ry="4" fill="#0000cc" stroke="#0000ff" stroke-width="0.6"/>
<ellipse cx="349" cy="674.3" rx="4" ry="4" fill="#0000cc" stroke="#0000ff" stroke-width="0.6"/>
<ellipse cx="382.75" cy="602.2" rx="4" ry="4" fill="#0000cc" stroke="#0000ff" stroke-width="0.6"/>
<ellipse cx="416.5" cy="459.2" rx="4" ry="4" fill="#0000cc" stroke="#0000ff" stroke-width="0.6"/>
<path d="M180.25 742.7 L214 742.7 L247.75 742.7 L281.5 742.5 L315.25 741.4 L349 741.4 L382.75 741.2 L416.5 740.6 L450.25 740.5" fill="none" stroke="#e60000" stroke-width="0.85" stroke-linejoin="round"/>
<rect x="176.35" y="738.8" width="7.8" height="7.8" fill="#cc0000" stroke="#ff0000" stroke-width="0.6"/>
<rect x="210.1" y="738.8" width="7.8" height="7.8" fill="#cc0000" stroke="#ff0000" stroke-width="0.6"/>
<rect x="243.85" y="738.8" width="7.8" height="7.8" fill="#cc0000" stroke="#ff0000" stroke-width="0.6"/>
<rect x="277.6" y="738.6" width="7.8" height="7.8" fill="#cc0000" stroke="#ff0000" stroke-width="0.6"/>
<rect x="311.35" y="737.5" width="7.8" height="7.8" fill="#cc0000" stroke="#ff0000" stroke-width="0.6"/>
<rect x="345.1" y="737.5" width="7.8" height="7.8" fill="#cc0000" stroke="#ff0000" stroke-width="0.6"/>
<rect x="378.85" y="737.3" width="7.8" height="7.8" fill="#cc0000" stroke="#ff0000" stroke-width="0.6"/>
<rect x="412.6" y="736.7" width="7.8" height="7.8" fill="#cc0000" stroke="#ff0000" stroke-width="0.6"/>
<rect x="446.35" y="736.6" width="7.8" height="7.8" fill="#cc0000" stroke="#ff0000" stroke-width="0.6"/>
<path d="M180.25 743 L214 743 L247.75 743 L281.5 742.8 L315.25 742.5 L349 742.5 L382.75 742.5 L416.5 742.5" fill="none" stroke="#734d26" stroke-width="0.85" stroke-linejoin="round"/>
<ellipse cx="180.25" cy="743" rx="4" ry="4" fill="#996633" stroke="#734d26" stroke-width="0.6"/>
<path d="M177.42 740.17L183.08 745.83M177.42 745.83L183.08 740.17" stroke="#734d26" stroke-width="0.6" fill="none"/>
<ellipse cx="214" cy="743" rx="4" ry="4" fill="#996633" stroke="#734d26" stroke-width="0.6"/>
<path d="M211.17 740.17L216.83 745.83M211.17 745.83L216.83 740.17" stroke="#734d26" stroke-width="0.6" fill="none"/>
<ellipse cx="247.75" cy="743" rx="4" ry="4" fill="#996633" stroke="#734d26" stroke-width="0.6"/>
<path d="M244.92 740.17L250.58 745.83M244.92 745.83L250.58 740.17" stroke="#734d26" stroke-width="0.6" fill="none"/>
<ellipse cx="281.5" cy="742.8" rx="4" ry="4" fill="#996633" stroke="#734d26" stroke-width="0.6"/>
<path d="M278.67 739.97L284.33 745.63M278.67 745.63L284.33 739.97" stroke="#734d26" stroke-width="0.6" fill="none"/>
<ellipse cx="315.25" cy="742.5" rx="4" ry="4" fill="#996633" stroke="#734d26" stroke-width="0.6"/>
<path d="M312.42 739.67L318.08 745.33M312.42 745.33L318.08 739.67" stroke="#734d26" stroke-width="0.6" fill="none"/>
<ellipse cx="349" cy="742.5" rx="4" ry="4" fill="#996633" stroke="#734d26" stroke-width="0.6"/>
<path d="M346.17 739.67L351.83 745.33M346.17 745.33L351.83 739.67" stroke="#734d26" stroke-width="0.6" fill="none"/>
<ellipse cx="382.75" cy="742.5" rx="4" ry="4" fill="#996633" stroke="#734d26" stroke-width="0.6"/>
<path d="M379.92 739.67L385.58 745.33M379.92 745.33L385.58 739.67" stroke="#734d26" stroke-width="0.6" fill="none"/>
<ellipse cx="416.5" cy="742.5" rx="4" ry="4" fill="#996633" stroke="#734d26" stroke-width="0.6"/>
<path d="M413.67 739.67L419.33 745.33M413.67 745.33L419.33 739.67" stroke="#734d26" stroke-width="0.6" fill="none"/>
<text x="0" y="0" transform="translate(22.4 589.4) rotate(-90)" text-anchor="middle" class="l"># iters</text>
<text x="264.9" y="797.3" text-anchor="middle" class="l">nb. of vars</text>
<rect x="541.6" y="435.4" width="370.8" height="307.9" fill="none" stroke="#000" stroke-width="1"/>
<path d="M609 743.3V735.8M609 435.4V442.9M676.4 743.3V735.8M676.4 435.4V442.9M743.8 743.3V735.8M743.8 435.4V442.9M811.2 743.3V735.8M811.2 435.4V442.9M878.6 743.3V735.8M878.6 435.4V442.9M541.6 743.3H549.1M912.4 743.3H904.9M541.6 695.34H549.1M912.4 695.34H904.9M541.6 647.38H549.1M912.4 647.38H904.9M541.6 599.42H549.1M912.4 599.42H904.9M541.6 551.46H549.1M912.4 551.46H904.9M541.6 503.5H549.1M912.4 503.5H904.9M541.6 455.54H549.1M912.4 455.54H904.9" stroke="#000" stroke-width="0.7" fill="none"/>
<text x="541.6" y="768.3" text-anchor="middle" class="t">0</text>
<text x="609" y="768.3" text-anchor="middle" class="t">2</text>
<text x="676.4" y="768.3" text-anchor="middle" class="t">4</text>
<text x="743.8" y="768.3" text-anchor="middle" class="t">6</text>
<text x="811.2" y="768.3" text-anchor="middle" class="t">8</text>
<text x="878.6" y="768.3" text-anchor="middle" class="t">10</text>
<text x="534.6" y="752.3" text-anchor="end" class="t">0</text>
<text x="534.6" y="704.34" text-anchor="end" class="t">0.2</text>
<text x="534.6" y="656.38" text-anchor="end" class="t">0.4</text>
<text x="534.6" y="608.42" text-anchor="end" class="t">0.6</text>
<text x="534.6" y="560.46" text-anchor="end" class="t">0.8</text>
<text x="534.6" y="512.5" text-anchor="end" class="t">1</text>
<text x="534.6" y="464.54" text-anchor="end" class="t">1.2</text>
<path d="M642.7 742.8 L676.4 741.6 L710.1 739.2 L743.8 734 L777.5 721.1 L811.2 693.1 L844.9 623.4 L878.6 463.3" fill="none" stroke="#0000e6" stroke-width="0.85" stroke-linejoin="round"/>
<ellipse cx="642.7" cy="742.8" rx="4" ry="4" fill="#0000cc" stroke="#0000ff" stroke-width="0.6"/>
<ellipse cx="676.4" cy="741.6" rx="4" ry="4" fill="#0000cc" stroke="#0000ff" stroke-width="0.6"/>
<ellipse cx="710.1" cy="739.2" rx="4" ry="4" fill="#0000cc" stroke="#0000ff" stroke-width="0.6"/>
<ellipse cx="743.8" cy="734" rx="4" ry="4" fill="#0000cc" stroke="#0000ff" stroke-width="0.6"/>
<ellipse cx="777.5" cy="721.1" rx="4" ry="4" fill="#0000cc" stroke="#0000ff" stroke-width="0.6"/>
<ellipse cx="811.2" cy="693.1" rx="4" ry="4" fill="#0000cc" stroke="#0000ff" stroke-width="0.6"/>
<ellipse cx="844.9" cy="623.4" rx="4" ry="4" fill="#0000cc" stroke="#0000ff" stroke-width="0.6"/>
<ellipse cx="878.6" cy="463.3" rx="4" ry="4" fill="#0000cc" stroke="#0000ff" stroke-width="0.6"/>
<path d="M642.7 743 L676.4 743 L710.1 742.8 L743.8 742.6 L777.5 742.4 L811.2 742.2 L844.9 741.2 L878.6 741.2 L912.3 740.4" fill="none" stroke="#e60000" stroke-width="0.85" stroke-linejoin="round"/>
<rect x="638.8" y="739.1" width="7.8" height="7.8" fill="#cc0000" stroke="#ff0000" stroke-width="0.6"/>
<rect x="672.5" y="739.1" width="7.8" height="7.8" fill="#cc0000" stroke="#ff0000" stroke-width="0.6"/>
<rect x="706.2" y="738.9" width="7.8" height="7.8" fill="#cc0000" stroke="#ff0000" stroke-width="0.6"/>
<rect x="739.9" y="738.7" width="7.8" height="7.8" fill="#cc0000" stroke="#ff0000" stroke-width="0.6"/>
<rect x="773.6" y="738.5" width="7.8" height="7.8" fill="#cc0000" stroke="#ff0000" stroke-width="0.6"/>
<rect x="807.3" y="738.3" width="7.8" height="7.8" fill="#cc0000" stroke="#ff0000" stroke-width="0.6"/>
<rect x="841" y="737.3" width="7.8" height="7.8" fill="#cc0000" stroke="#ff0000" stroke-width="0.6"/>
<rect x="874.7" y="737.3" width="7.8" height="7.8" fill="#cc0000" stroke="#ff0000" stroke-width="0.6"/>
<rect x="908.4" y="736.5" width="7.8" height="7.8" fill="#cc0000" stroke="#ff0000" stroke-width="0.6"/>
<path d="M642.7 743 L676.4 743 L710.1 742.8 L743.8 742.6 L777.5 742.4 L811.2 742.2 L844.9 741.3 L878.6 741.3" fill="none" stroke="#734d26" stroke-width="0.85" stroke-linejoin="round"/>
<ellipse cx="642.7" cy="743" rx="4" ry="4" fill="#996633" stroke="#734d26" stroke-width="0.6"/>
<path d="M639.87 740.17L645.53 745.83M639.87 745.83L645.53 740.17" stroke="#734d26" stroke-width="0.6" fill="none"/>
<ellipse cx="676.4" cy="743" rx="4" ry="4" fill="#996633" stroke="#734d26" stroke-width="0.6"/>
<path d="M673.57 740.17L679.23 745.83M673.57 745.83L679.23 740.17" stroke="#734d26" stroke-width="0.6" fill="none"/>
<ellipse cx="710.1" cy="742.8" rx="4" ry="4" fill="#996633" stroke="#734d26" stroke-width="0.6"/>
<path d="M707.27 739.97L712.93 745.63M707.27 745.63L712.93 739.97" stroke="#734d26" stroke-width="0.6" fill="none"/>
<ellipse cx="743.8" cy="742.6" rx="4" ry="4" fill="#996633" stroke="#734d26" stroke-width="0.6"/>
<path d="M740.97 739.77L746.63 745.43M740.97 745.43L746.63 739.77" stroke="#734d26" stroke-width="0.6" fill="none"/>
<ellipse cx="777.5" cy="742.4" rx="4" ry="4" fill="#996633" stroke="#734d26" stroke-width="0.6"/>
<path d="M774.67 739.57L780.33 745.23M774.67 745.23L780.33 739.57" stroke="#734d26" stroke-width="0.6" fill="none"/>
<ellipse cx="811.2" cy="742.2" rx="4" ry="4" fill="#996633" stroke="#734d26" stroke-width="0.6"/>
<path d="M808.37 739.37L814.03 745.03M808.37 745.03L814.03 739.37" stroke="#734d26" stroke-width="0.6" fill="none"/>
<ellipse cx="844.9" cy="741.3" rx="4" ry="4" fill="#996633" stroke="#734d26" stroke-width="0.6"/>
<path d="M842.07 738.47L847.73 744.13M842.07 744.13L847.73 738.47" stroke="#734d26" stroke-width="0.6" fill="none"/>
<ellipse cx="878.6" cy="741.3" rx="4" ry="4" fill="#996633" stroke="#734d26" stroke-width="0.6"/>
<path d="M875.77 738.47L881.43 744.13M875.77 744.13L881.43 738.47" stroke="#734d26" stroke-width="0.6" fill="none"/>
<circle cx="545.0" cy="422.1" r="1.5" fill="#000"/>
<text x="549.5" y="429.1" class="t">10</text><text x="576.5" y="419.5" style="font-size:19px">4</text>
<text x="0" y="0" transform="translate(483.9 589.4) rotate(-90)" text-anchor="middle" class="l"># sat calls</text>
<text x="725" y="411" text-anchor="middle" class="l"><tspan font-style="italic">AllDiff</tspan><tspan dx="2"> problem</tspan></text>
<text x="727" y="797.3" text-anchor="middle" class="l">nb. of vars</text>
<rect x="1005.3" y="435.4" width="371.3" height="308" fill="none" stroke="#000" stroke-width="1"/>
<path d="M1072.8 743.4V735.9M1072.8 435.4V442.9M1140.3 743.4V735.9M1140.3 435.4V442.9M1207.8 743.4V735.9M1207.8 435.4V442.9M1275.3 743.4V735.9M1275.3 435.4V442.9M1342.8 743.4V735.9M1342.8 435.4V442.9M1005.3 743.4H1012.8M1376.6 743.4H1369.1M1005.3 674.9H1012.8M1376.6 674.9H1369.1M1005.3 606.4H1012.8M1376.6 606.4H1369.1M1005.3 537.9H1012.8M1376.6 537.9H1369.1M1005.3 469.4H1012.8M1376.6 469.4H1369.1" stroke="#000" stroke-width="0.7" fill="none"/>
<text x="1005.3" y="768.4" text-anchor="middle" class="t">0</text>
<text x="1072.8" y="768.4" text-anchor="middle" class="t">2</text>
<text x="1140.3" y="768.4" text-anchor="middle" class="t">4</text>
<text x="1207.8" y="768.4" text-anchor="middle" class="t">6</text>
<text x="1275.3" y="768.4" text-anchor="middle" class="t">8</text>
<text x="1342.8" y="768.4" text-anchor="middle" class="t">10</text>
<text x="998.3" y="752.4" text-anchor="end" class="t">0</text>
<text x="998.3" y="683.9" text-anchor="end" class="t">200</text>
<text x="998.3" y="615.4" text-anchor="end" class="t">400</text>
<text x="998.3" y="546.9" text-anchor="end" class="t">600</text>
<text x="998.3" y="478.4" text-anchor="end" class="t">800</text>
<path d="M1106.55 743.3 L1140.3 743.3 L1174.05 743.3 L1207.8 743.2 L1241.55 743 L1275.3 740.7 L1309.05 731.5 L1342.8 611.8" fill="none" stroke="#0000e6" stroke-width="0.85" stroke-linejoin="round"/>
<ellipse cx="1106.55" cy="743.3" rx="3.8" ry="3.5" fill="#0000cc" stroke="#0000ff" stroke-width="0.6"/>
<ellipse cx="1140.3" cy="743.3" rx="3.8" ry="3.5" fill="#0000cc" stroke="#0000ff" stroke-width="0.6"/>
<ellipse cx="1174.05" cy="743.3" rx="3.8" ry="3.5" fill="#0000cc" stroke="#0000ff" stroke-width="0.6"/>
<ellipse cx="1207.8" cy="743.2" rx="3.8" ry="3.5" fill="#0000cc" stroke="#0000ff" stroke-width="0.6"/>
<ellipse cx="1241.55" cy="743" rx="3.8" ry="3.5" fill="#0000cc" stroke="#0000ff" stroke-width="0.6"/>
<ellipse cx="1275.3" cy="740.7" rx="3.8" ry="3.5" fill="#0000cc" stroke="#0000ff" stroke-width="0.6"/>
<ellipse cx="1309.05" cy="731.5" rx="3.8" ry="3.5" fill="#0000cc" stroke="#0000ff" stroke-width="0.6"/>
<ellipse cx="1342.8" cy="611.8" rx="3.8" ry="3.5" fill="#0000cc" stroke="#0000ff" stroke-width="0.6"/>
<path d="M1106.55 743.3 L1140.3 743.3 L1174.05 743.3 L1207.8 743.3 L1241.55 743.2 L1275.3 743.2 L1309.05 741.8 L1342.8 725.3 L1376.55 531.4" fill="none" stroke="#e60000" stroke-width="0.85" stroke-linejoin="round"/>
<rect x="1102.65" y="739.65" width="7.8" height="7.3" fill="#cc0000" stroke="#ff0000" stroke-width="0.6"/>
<rect x="1136.4" y="739.65" width="7.8" height="7.3" fill="#cc0000" stroke="#ff0000" stroke-width="0.6"/>
<rect x="1170.15" y="739.65" width="7.8" height="7.3" fill="#cc0000" stroke="#ff0000" stroke-width="0.6"/>
<rect x="1203.9" y="739.65" width="7.8" height="7.3" fill="#cc0000" stroke="#ff0000" stroke-width="0.6"/>
<rect x="1237.65" y="739.55" width="7.8" height="7.3" fill="#cc0000" stroke="#ff0000" stroke-width="0.6"/>
<rect x="1271.4" y="739.55" width="7.8" height="7.3" fill="#cc0000" stroke="#ff0000" stroke-width="0.6"/>
<rect x="1305.15" y="738.15" width="7.8" height="7.3" fill="#cc0000" stroke="#ff0000" stroke-width="0.6"/>
<rect x="1338.9" y="721.65" width="7.8" height="7.3" fill="#cc0000" stroke="#ff0000" stroke-width="0.6"/>
<rect x="1372.65" y="527.75" width="7.8" height="7.3" fill="#cc0000" stroke="#ff0000" stroke-width="0.6"/>
<path d="M1106.55 743.3 L1140.3 743.3 L1174.05 743.3 L1207.8 743.2 L1241.55 743 L1275.3 742.7 L1309.05 730.4 L1342.8 438.5" fill="none" stroke="#734d26" stroke-width="0.85" stroke-linejoin="round"/>
<ellipse cx="1106.55" cy="743.3" rx="3.8" ry="3.5" fill="#996633" stroke="#734d26" stroke-width="0.6"/>
<path d="M1103.86 740.83L1109.24 745.77M1103.86 745.77L1109.24 740.83" stroke="#734d26" stroke-width="0.6" fill="none"/>
<ellipse cx="1140.3" cy="743.3" rx="3.8" ry="3.5" fill="#996633" stroke="#734d26" stroke-width="0.6"/>
<path d="M1137.61 740.83L1142.99 745.77M1137.61 745.77L1142.99 740.83" stroke="#734d26" stroke-width="0.6" fill="none"/>
<ellipse cx="1174.05" cy="743.3" rx="3.8" ry="3.5" fill="#996633" stroke="#734d26" stroke-width="0.6"/>
<path d="M1171.36 740.83L1176.74 745.77M1171.36 745.77L1176.74 740.83" stroke="#734d26" stroke-width="0.6" fill="none"/>
<ellipse cx="1207.8" cy="743.2" rx="3.8" ry="3.5" fill="#996633" stroke="#734d26" stroke-width="0.6"/>
<path d="M1205.11 740.73L1210.49 745.67M1205.11 745.67L1210.49 740.73" stroke="#734d26" stroke-width="0.6" fill="none"/>
<ellipse cx="1241.55" cy="743" rx="3.8" ry="3.5" fill="#996633" stroke="#734d26" stroke-width="0.6"/>
<path d="M1238.86 740.53L1244.24 745.47M1238.86 745.47L1244.24 740.53" stroke="#734d26" stroke-width="0.6" fill="none"/>
<ellipse cx="1275.3" cy="742.7" rx="3.8" ry="3.5" fill="#996633" stroke="#734d26" stroke-width="0.6"/>
<path d="M1272.61 740.23L1277.99 745.17M1272.61 745.17L1277.99 740.23" stroke="#734d26" stroke-width="0.6" fill="none"/>
<ellipse cx="1309.05" cy="730.4" rx="3.8" ry="3.5" fill="#996633" stroke="#734d26" stroke-width="0.6"/>
<path d="M1306.36 727.93L1311.74 732.87M1306.36 732.87L1311.74 727.93" stroke="#734d26" stroke-width="0.6" fill="none"/>
<ellipse cx="1342.8" cy="438.5" rx="3.8" ry="3.5" fill="#996633" stroke="#734d26" stroke-width="0.6"/>
<path d="M1340.11 436.03L1345.49 440.97M1340.11 440.97L1345.49 436.03" stroke="#734d26" stroke-width="0.6" fill="none"/>
<text x="0" y="0" transform="translate(946.3 589.1) rotate(-90)" text-anchor="middle" class="l">%CPU Time (sec.)</text>
<text x="1191" y="797.3" text-anchor="middle" class="l">nb. of vars</text>
</svg></body></html>
